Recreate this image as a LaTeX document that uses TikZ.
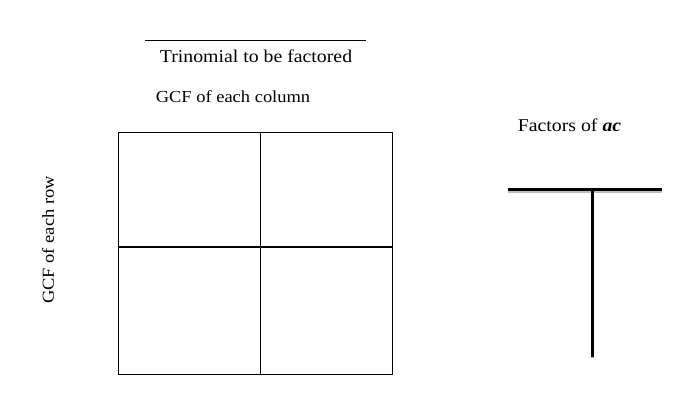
\documentclass[tikz,border=0pt]{standalone}
\usepackage{fontspec}
\setmainfont[FakeStretch=1.1]{Liberation Serif}
\begin{document}
\begin{tikzpicture}[x=1pt,y=-1pt,
  lbl/.style={inner sep=0pt, font=\fontsize{18}{20}\selectfont},
  lbls/.style={inner sep=0pt, font=\fontsize{16.8}{19}\selectfont},
  gridline/.style={line width=1.3pt},
  tline/.style={line width=3pt}]
\useasboundingbox[fill=white] (0,0) rectangle (693,403);
% blank line
\coordinate (bl1) at (145,40);
\coordinate (bl2) at (366,40);
\draw[line width=0.8pt] (bl1) -- (bl2);
\node[lbl] (tri) at (256,56) {Trinomial to be factored};
\node[lbls] (col) at (233,97) {GCF of each column};
\node[lbls, rotate=90] (row) at (48,240) {GCF of each row};
\node[lbl] (fac) at (569.5,125) {Factors of \textbf{\textit{ac}}};
% grid
\coordinate (g1) at (118.3,132.7);
\coordinate (g2) at (392.7,374.3);
\draw[gridline] (g1) rectangle (g2);
\coordinate (v1) at (260.3,132.7);
\coordinate (v2) at (260.3,374.3);
\coordinate (h1) at (118.3,247);
\coordinate (h2) at (392.7,247);
\draw[gridline] (v1) -- (v2);
\draw[gridline] (h1) -- (h2);
% T chart
\coordinate (t1) at (507.7,190);
\coordinate (t2) at (661.7,190);
\coordinate (t3) at (592,190);
\coordinate (t4) at (592,357);
\draw[tline, black!25, transform canvas={xshift=0.6pt,yshift=-1.2pt}] (t1) -- (t2) (t3) -- (t4);
\draw[tline] (t1) -- (t2);
\draw[tline] (t3) -- (t4);
\end{tikzpicture}
\end{document}
